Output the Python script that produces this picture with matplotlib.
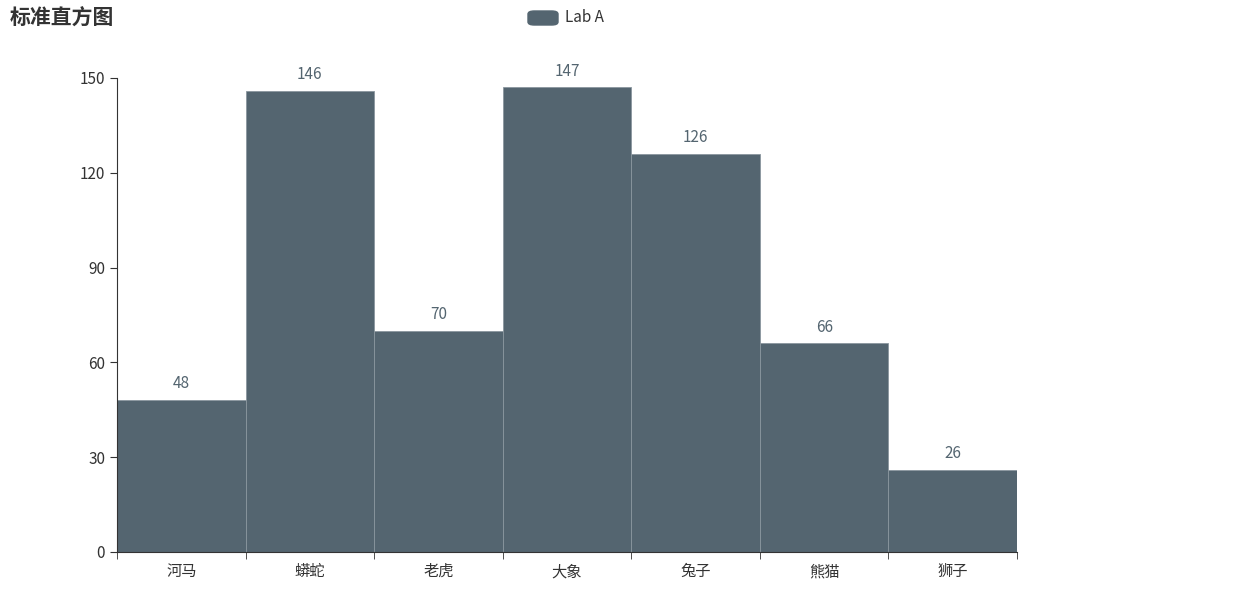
import matplotlib
matplotlib.use("Agg")
import matplotlib.pyplot as plt
from matplotlib.patches import FancyBboxPatch

plt.rcParams['font.family'] = ['Noto Sans CJK SC', 'DejaVu Sans']

categories = ["河马", "蟒蛇", "老虎", "大象", "兔子", "熊猫", "狮子"]
values = [48, 146, 70, 147, 126, 66, 26]
series_name = "Lab A"
title = "标准直方图"
yticks = [0, 30, 60, 90, 120, 150]

color = "#546570"
fig = plt.figure(figsize=(12.6, 6.12), dpi=100)
ax = fig.add_axes([117/1260, 60/612, 900/1260, 474/612])
x = list(range(len(categories)))
ax.bar(x, values, width=1.0, color=color, edgecolor="#8a969e", linewidth=0.6)
for xi, v in zip(x, values):
    ax.text(xi, v + 2.5, str(v), ha="center", va="bottom", fontsize=11, color="#546570")
ax.set_xlim(-0.5, len(categories) - 0.5)
ax.set_ylim(0, 150)
ax.set_yticks(yticks)
ax.set_yticklabels([str(t) for t in yticks], fontsize=11, color="#333333")
ax.set_xticks(x)
ax.set_xticklabels(categories, fontsize=11, color="#333333")
ax.tick_params(axis="x", length=0, pad=8)
ax.set_xticks([i - 0.5 for i in range(len(categories) + 1)], minor=True)
ax.tick_params(axis="x", which="minor", length=5, color="#333333")
ax.tick_params(axis="y", length=5, color="#333333")
for s in ["top", "right"]:
    ax.spines[s].set_visible(False)
ax.spines["left"].set_color("#333333")
ax.spines["bottom"].set_color("#333333")

fig.text(10/1260, 1 - 18/612, title, fontsize=15, fontweight="bold", color="#333333", va="center", ha="left")
fig.patches.append(FancyBboxPatch((528/1260, 1 - 25/612), 30/1260, 14/612,
                                  boxstyle="round,pad=0,rounding_size=0.005",
                                  transform=fig.transFigure, color=color, figure=fig))
fig.text(565/1260, 1 - 18/612, series_name, fontsize=11, color="#333333", va="center", ha="left")
fig.savefig("out.png", dpi=100, facecolor="white")
